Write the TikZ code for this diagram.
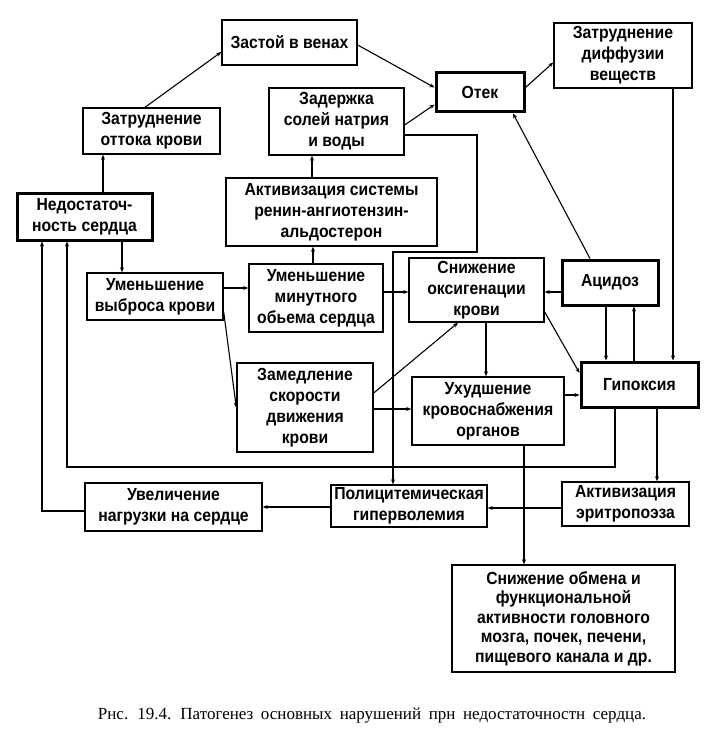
\documentclass[tikz,border=0pt]{standalone}
\usepackage{fontspec}
\setmainfont{Liberation Sans}
\newfontfamily\boxfont[FakeStretch=0.9]{Liberation Sans}
\newfontfamily\capfont[WordSpace=1.8]{Liberation Serif}
\usetikzlibrary{arrows.meta,calc}
\begin{document}
\begin{tikzpicture}[x=1pt,y=-1pt,
  box/.style={draw, line width=1.4pt, inner sep=0pt, align=center,
    font=\boxfont\fontsize{17.5}{21}\selectfont\bfseries},
  mbox/.style={box, execute at begin node={\rule{0pt}{22pt}}},
  thickbox/.style={box, line width=3pt},
  thickmbox/.style={mbox, line width=3pt},
  arr/.style={line width=1.1pt, -{Stealth[length=5pt,width=4pt]}}]
\useasboundingbox (0,0) rectangle (714,730);
\fill[white] (0,0) rectangle (714,730);

\node[box, minimum width=135pt, minimum height=45pt] (zastoy) at (289.5,42.5) {Застой в венах};
\node[thickbox, minimum width=88pt, minimum height=39pt] (otek) at (480,92.5) {Отек};
\node[mbox, minimum width=138pt, minimum height=65pt] (diff) at (623,55.5) {Затруднение\\диффузии\\веществ};
\node[mbox, minimum width=137pt, minimum height=46pt] (ottok) at (151.5,131) {Затруднение\\оттока крови};
\node[mbox, minimum width=135pt, minimum height=67pt] (zaderzh) at (336.5,121.5) {Задержка\\солей натрия\\и воды};
\node[thickmbox, minimum width=135pt, minimum height=47pt] (ned) at (84.5,216.5) {Недостаточ-\\ность сердца};
\node[mbox, minimum width=211pt, minimum height=68pt] (raas) at (331.5,212) {Активизация системы\\ренин-ангиотензин-\\альдостерон};
\node[mbox, minimum width=136pt, minimum height=47pt] (vybros) at (155,296.5) {Уменьшение\\выброса крови};
\node[mbox, minimum width=134pt, minimum height=68pt] (minut) at (316,298) {Уменьшение\\минутного\\обьема сердца};
\node[mbox, minimum width=135pt, minimum height=64pt] (oxy) at (476.5,290) {Снижение\\оксигенации\\крови};
\node[thickbox, minimum width=96pt, minimum height=45pt] (acid) at (610,282.5) {Ацидоз};
\node[mbox, minimum width=136pt, minimum height=89pt] (zamedl) at (305,407.5) {Замедление\\скорости\\движения\\крови};
\node[mbox, minimum width=152pt, minimum height=68pt] (uhud) at (488,411) {Ухудшение\\кровоснабжения\\органов};
\node[thickbox, minimum width=117pt, minimum height=45pt] (gipox) at (639.5,384.5) {Гипоксия};
\node[mbox, minimum width=177pt, minimum height=48pt] (nagruz) at (173.5,507) {Увеличение\\нагрузки на сердце};
\node[mbox, minimum width=156pt, minimum height=42pt] (polic) at (409,506) {Полицитемическая\\гиперволемия};
\node[mbox, minimum width=127pt, minimum height=44pt] (eritr) at (625.5,504) {Активизация\\эритропоэза};
\node[mbox, minimum width=223pt, minimum height=107pt, font=\boxfont\fontsize{17.5}{19.5}\selectfont\bfseries] (obmen) at (563.5,618.5) {Снижение обмена и\\функциональной\\активности головного\\мозга, почек, печени,\\пищевого канала и др.};
\node[font=\capfont\fontsize{17}{19}\selectfont] (cap) at (372,716) {Рнс. 19.4. Патогенез основных нарушений прн недостаточностн сердца.};

\draw[arr] ([xshift=-6.5pt]ottok.north) -- ([yshift=-9.5pt]zastoy.west);
\draw[arr] ([yshift=-2.5pt]zastoy.east) -- ([yshift=5pt]otek.west);
\draw[arr] ([yshift=-3.5pt]zaderzh.east) -- ([yshift=-12pt]otek.west);
\draw[arr] ([yshift=5pt]otek.east) -- ([yshift=-7pt]diff.west);
\draw[arr] ([xshift=50pt]diff.south) -- ([xshift=33.5pt]gipox.north);
\draw[arr] ([xshift=-20pt]acid.north) -- ([xshift=33pt]otek.south);
\coordinate (g1) at ([xshift=18.5pt]ned.north);
\draw[arr] (g1) -- (g1 |- ottok.south);
\coordinate (h1) at ([xshift=-19.5pt]raas.north);
\draw[arr] (h1) -- (h1 |- zaderzh.south);
\coordinate (i1) at ([xshift=-3pt]minut.north);
\draw[arr] (i1) -- (i1 |- raas.south);
\coordinate (j1) at ([xshift=37.5pt]ned.south);
\draw[arr] (j1) -- (j1 |- vybros.north);
\coordinate (k1) at ([yshift=8.5pt]vybros.east);
\draw[arr] (k1) -- (k1 -| minut.west);
\draw[arr] ([yshift=-15.5pt]vybros.east) -- (zamedl.west);
\coordinate (m1) at ([yshift=6pt]minut.east);
\draw[arr] (m1) -- (m1 -| oxy.west);
\draw[arr] ([yshift=14.5pt]zamedl.east) -- ([xshift=-18.5pt]oxy.south);
\coordinate (o1) at ([yshift=-1.5pt]zamedl.east);
\draw[arr] (o1) -- (o1 -| uhud.west);
\coordinate (p1) at ([xshift=9.5pt]oxy.south);
\draw[arr] (p1) -- (p1 |- uhud.north);
\coordinate (q1) at ([yshift=-9.5pt]acid.west);
\draw[arr] (q1) -- (q1 -| oxy.east);
\draw[arr] ([yshift=-22pt]oxy.east) -- ([yshift=11.5pt]gipox.west);
\coordinate (s1) at ([yshift=16pt]uhud.east);
\draw[arr] (s1) -- (s1 -| gipox.west);
\coordinate (t1) at ([xshift=-4pt]acid.south);
\draw[arr] (t1) -- (t1 |- gipox.north);
\coordinate (u1) at ([xshift=-5.5pt]gipox.north);
\draw[arr] (u1) -- (u1 |- acid.south);
\coordinate (v1) at ([xshift=-24.5pt]gipox.south);
\coordinate (v2) at ([xshift=-17.5pt]ned.south);
\coordinate (fb) at (0,467);
\draw[arr] (v1) -- (v1 |- fb) -- (v2 |- fb) -- (v2);
\coordinate (w1) at ([xshift=17.5pt]gipox.south);
\draw[arr] (w1) -- (w1 |- eritr.north);
\coordinate (x1) at ([yshift=-4pt]eritr.west);
\draw[arr] (x1) -- (x1 -| polic.east);
\coordinate (y1) at ([yshift=-1pt]polic.west);
\draw[arr] (y1) -- (y1 -| nagruz.east);
\coordinate (z1) at ([yshift=-4pt]nagruz.west);
\coordinate (z2) at ([xshift=-42.5pt]ned.south);
\draw[arr] (z1) -- (z1 -| z2) -- (z2);
\coordinate (aa1) at ([yshift=-13.5pt]zaderzh.east);
\coordinate (aa2) at (477,252);
\coordinate (aa3) at ([xshift=-16pt]polic.north);
\draw[arr] (aa1) -- (aa1 -| aa2) -- (aa2) -- (aa2 -| aa3) -- (aa3);
\coordinate (bb1) at ([xshift=36pt]uhud.south);
\draw[arr] (bb1) -- (bb1 |- obmen.north);
\end{tikzpicture}
\end{document}
